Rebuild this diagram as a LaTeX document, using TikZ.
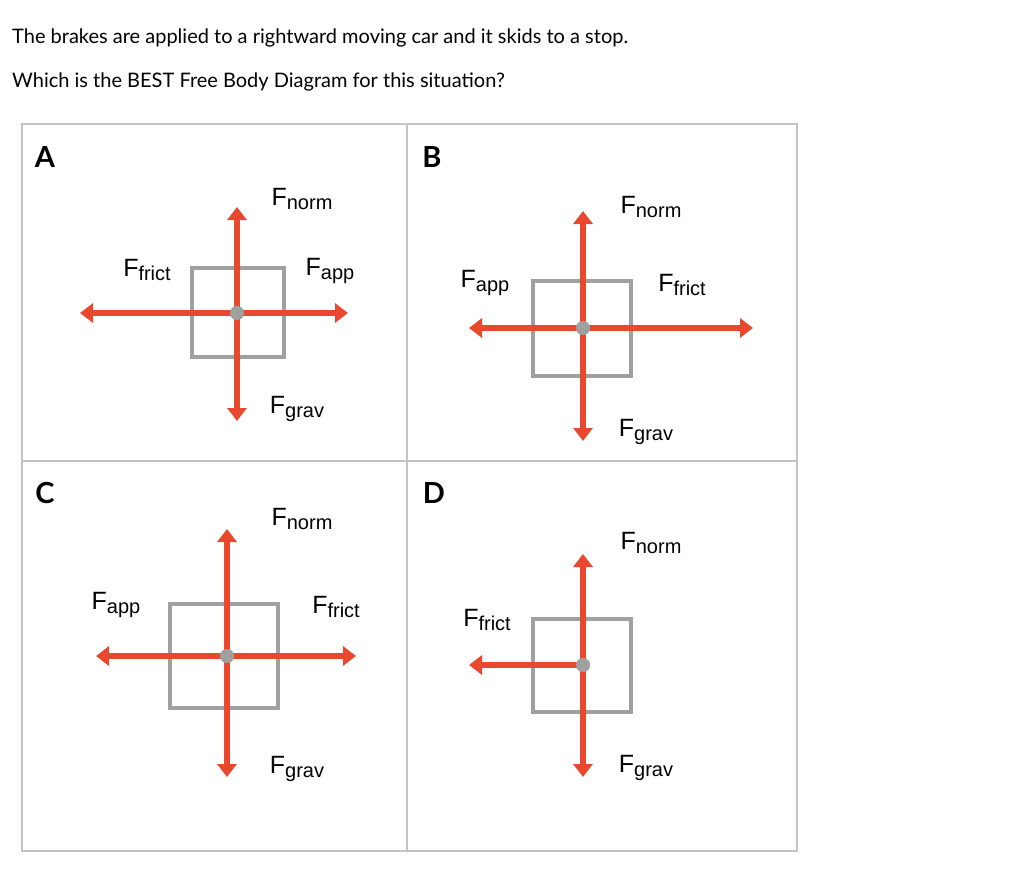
\documentclass[tikz,border=0pt]{standalone}
\usepackage{fontspec}
\setmainfont{Lato}
\newfontfamily\lab{Liberation Sans}
\usetikzlibrary{arrows.meta}
\definecolor{fred}{HTML}{E8492E}
\definecolor{bgrey}{HTML}{A0A0A0}
\definecolor{lgrey}{HTML}{C4C4C4}
\tikzset{
 force/.style={draw=fred,line width=5.5pt,-{Triangle[length=13pt,width=19pt]}},
 boxy/.style={draw=bgrey,line width=3.5pt,inner sep=0pt},
 dotn/.style={circle,fill=bgrey,minimum size=14pt,inner sep=0pt},
 flab/.style={font=\lab\fontsize{25}{25}\selectfont,inner sep=0pt},
 letter/.style={font=\fontsize{29}{29}\selectfont\bfseries,inner sep=0pt},
 qtext/.style={font=\fontsize{20}{20}\selectfont,anchor=west,inner sep=0pt}
}
\newcommand{\F}[1]{F\raisebox{-0.35ex}{\fontsize{20}{20}\selectfont #1}}
\begin{document}
\begin{tikzpicture}[x=1pt,y=-1pt]
\useasboundingbox (0,0) rectangle (1024,894);
\node[qtext] (q1) at (12,38) {The brakes are applied to a rightward moving car and it skids to a stop.};
\node[qtext] (q2) at (12,82) {Which is the BEST Free Body Diagram for this situation?};
\draw[lgrey,line width=1.8pt] (22,124) rectangle (797,851);
\draw[lgrey,line width=1.8pt] (407,124) -- (407,851) (22,461) -- (797,461);
\node[letter] (la) at (45,157) {A};
\node[letter] (lb) at (432,157) {B};
\node[letter] (lc) at (45,493) {C};
\node[letter] (ld) at (434,493) {D};
% A
\draw[boxy] (192,268) rectangle (284,357);
\node[dotn] (da) at (237,313) {};
\coordinate (an) at (237,207); \coordinate (as) at (237,421);
\coordinate (aw) at (80,313); \coordinate (ae) at (348,313);
\draw[force] (da.center) -- (an); \draw[force] (da.center) -- (as);
\draw[force] (da.center) -- (aw); \draw[force] (da.center) -- (ae);
\node[dotn] at (237,313) {};
\node[flab] (a1) at (302,199) {\F{norm}};
\node[flab] (a2) at (147,270) {\F{frict}};
\node[flab] (a3) at (330,271) {\F{app}};
\node[flab] (a4) at (297,409) {\F{grav}};
% B
\draw[boxy] (533,281) rectangle (631,376);
\node[dotn] (db) at (583,328) {};
\coordinate (bn) at (583,211); \coordinate (bs) at (583,441);
\coordinate (bw) at (469,328); \coordinate (be) at (753,328);
\draw[force] (db.center) -- (bn); \draw[force] (db.center) -- (bs);
\draw[force] (db.center) -- (bw); \draw[force] (db.center) -- (be);
\node[dotn] at (583,328) {};
\node[flab] (b1) at (651,207) {\F{norm}};
\node[flab] (b2) at (485,283) {\F{app}};
\node[flab] (b3) at (682,285) {\F{frict}};
\node[flab] (b4) at (646,432) {\F{grav}};
% C
\draw[boxy] (170,604) rectangle (278,708);
\node[dotn] (dc) at (227,656) {};
\coordinate (cn) at (227,529); \coordinate (cs) at (227,777);
\coordinate (cw) at (96,656); \coordinate (ce) at (356,656);
\draw[force] (dc.center) -- (cn); \draw[force] (dc.center) -- (cs);
\draw[force] (dc.center) -- (cw); \draw[force] (dc.center) -- (ce);
\node[dotn] at (227,656) {};
\node[flab] (c1) at (302,519) {\F{norm}};
\node[flab] (c2) at (116,605) {\F{app}};
\node[flab] (c3) at (336,607) {\F{frict}};
\node[flab] (c4) at (297,769) {\F{grav}};
% D
\draw[boxy] (533,619) rectangle (631,712);
\node[dotn] (dd) at (583,665) {};
\coordinate (dn) at (583,554); \coordinate (ds) at (583,777);
\coordinate (dw) at (469,665);
\draw[force] (dd.center) -- (dn); \draw[force] (dd.center) -- (ds);
\draw[force] (dd.center) -- (dw);
\node[dotn] at (583,665) {};
\node[flab] (d1) at (651,543) {\F{norm}};
\node[flab] (d2) at (487,620) {\F{frict}};
\node[flab] (d3) at (646,768) {\F{grav}};
\end{tikzpicture}
\end{document}
